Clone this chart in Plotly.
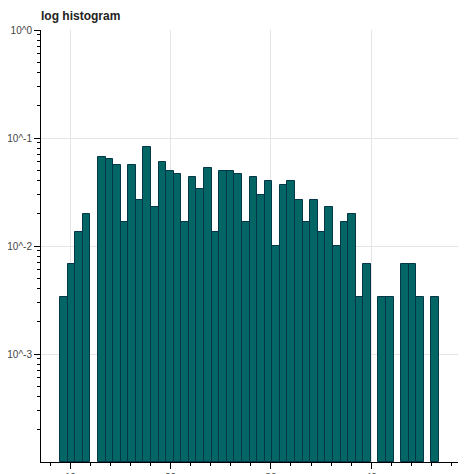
import plotly.graph_objects as go

bin_left = 8.98
bin_width = 0.7556
density = [0.0033, 0.0067, 0.0133, 0.0198, None, 0.0662, 0.0635, 0.0566, 0.0166, 0.0566,
           0.0267, 0.083, 0.0231, 0.06, 0.0499, 0.0464, 0.0166, 0.0433, 0.0333, 0.0527,
           0.0133, 0.0499, 0.0499, 0.0464, 0.0166, 0.0433, 0.0298, 0.0397, 0.01, 0.0367,
           0.0397, 0.0267, 0.0166, 0.0267, 0.0133, 0.0231, 0.01, 0.0166, 0.0198, 0.0033,
           0.0067, None, 0.0033, 0.0033, None, 0.0067, 0.0067, 0.0033, None, 0.0033]
x_ticks = [10, 20, 30, 40]
y_tickvals = [1, 0.1, 0.01, 0.001]
y_ticktext = ["10^0", "10^-1", "10^-2", "10^-3"]

centers = [bin_left + bin_width * (i + 0.5) for i in range(len(density))]
minor_y = [m * 10.0 ** e for e in range(-4, 0) for m in range(2, 10)]

fig = go.Figure(go.Bar(
    x=centers, y=density, width=bin_width,
    base=[1e-4 if d is not None else None for d in density],
    marker=dict(color="#036564", line=dict(color="#033649", width=1)),
))
fig.update_layout(
    width=474, height=474, margin=dict(l=33, r=24, t=22, b=20),
    plot_bgcolor="white", paper_bgcolor="white", showlegend=False, bargap=0,
    title=dict(text="<b>log histogram</b>", x=33/474, xref="container", xanchor="left",
               y=1, yref="container", yanchor="top", pad=dict(t=4),
               font=dict(family="Liberation Sans, Arial", size=12, color="#222")),
    font=dict(family="Liberation Sans, Arial", size=10, color="#444"),
)
fig.update_xaxes(range=[7.08, 48.65], tickvals=x_ticks, ticks="outside", ticklen=6,
                 showline=True, linecolor="black", gridcolor="#e5e5e5", zeroline=False,
                 automargin=False,
                 minor=dict(dtick=2, ticks="outside", ticklen=3, showgrid=False, tickcolor="black"),
                 tickcolor="black")
fig.update_yaxes(type="log", range=[-4, 0], tickvals=y_tickvals, ticktext=y_ticktext,
                 ticks="outside", ticklen=6, showline=True, linecolor="black", tickcolor="black",
                 gridcolor="#e5e5e5", zeroline=False, automargin=False,
                 minor=dict(tickvals=minor_y, ticks="outside", ticklen=3, showgrid=False, tickcolor="black"))
fig.write_html("out.html")
